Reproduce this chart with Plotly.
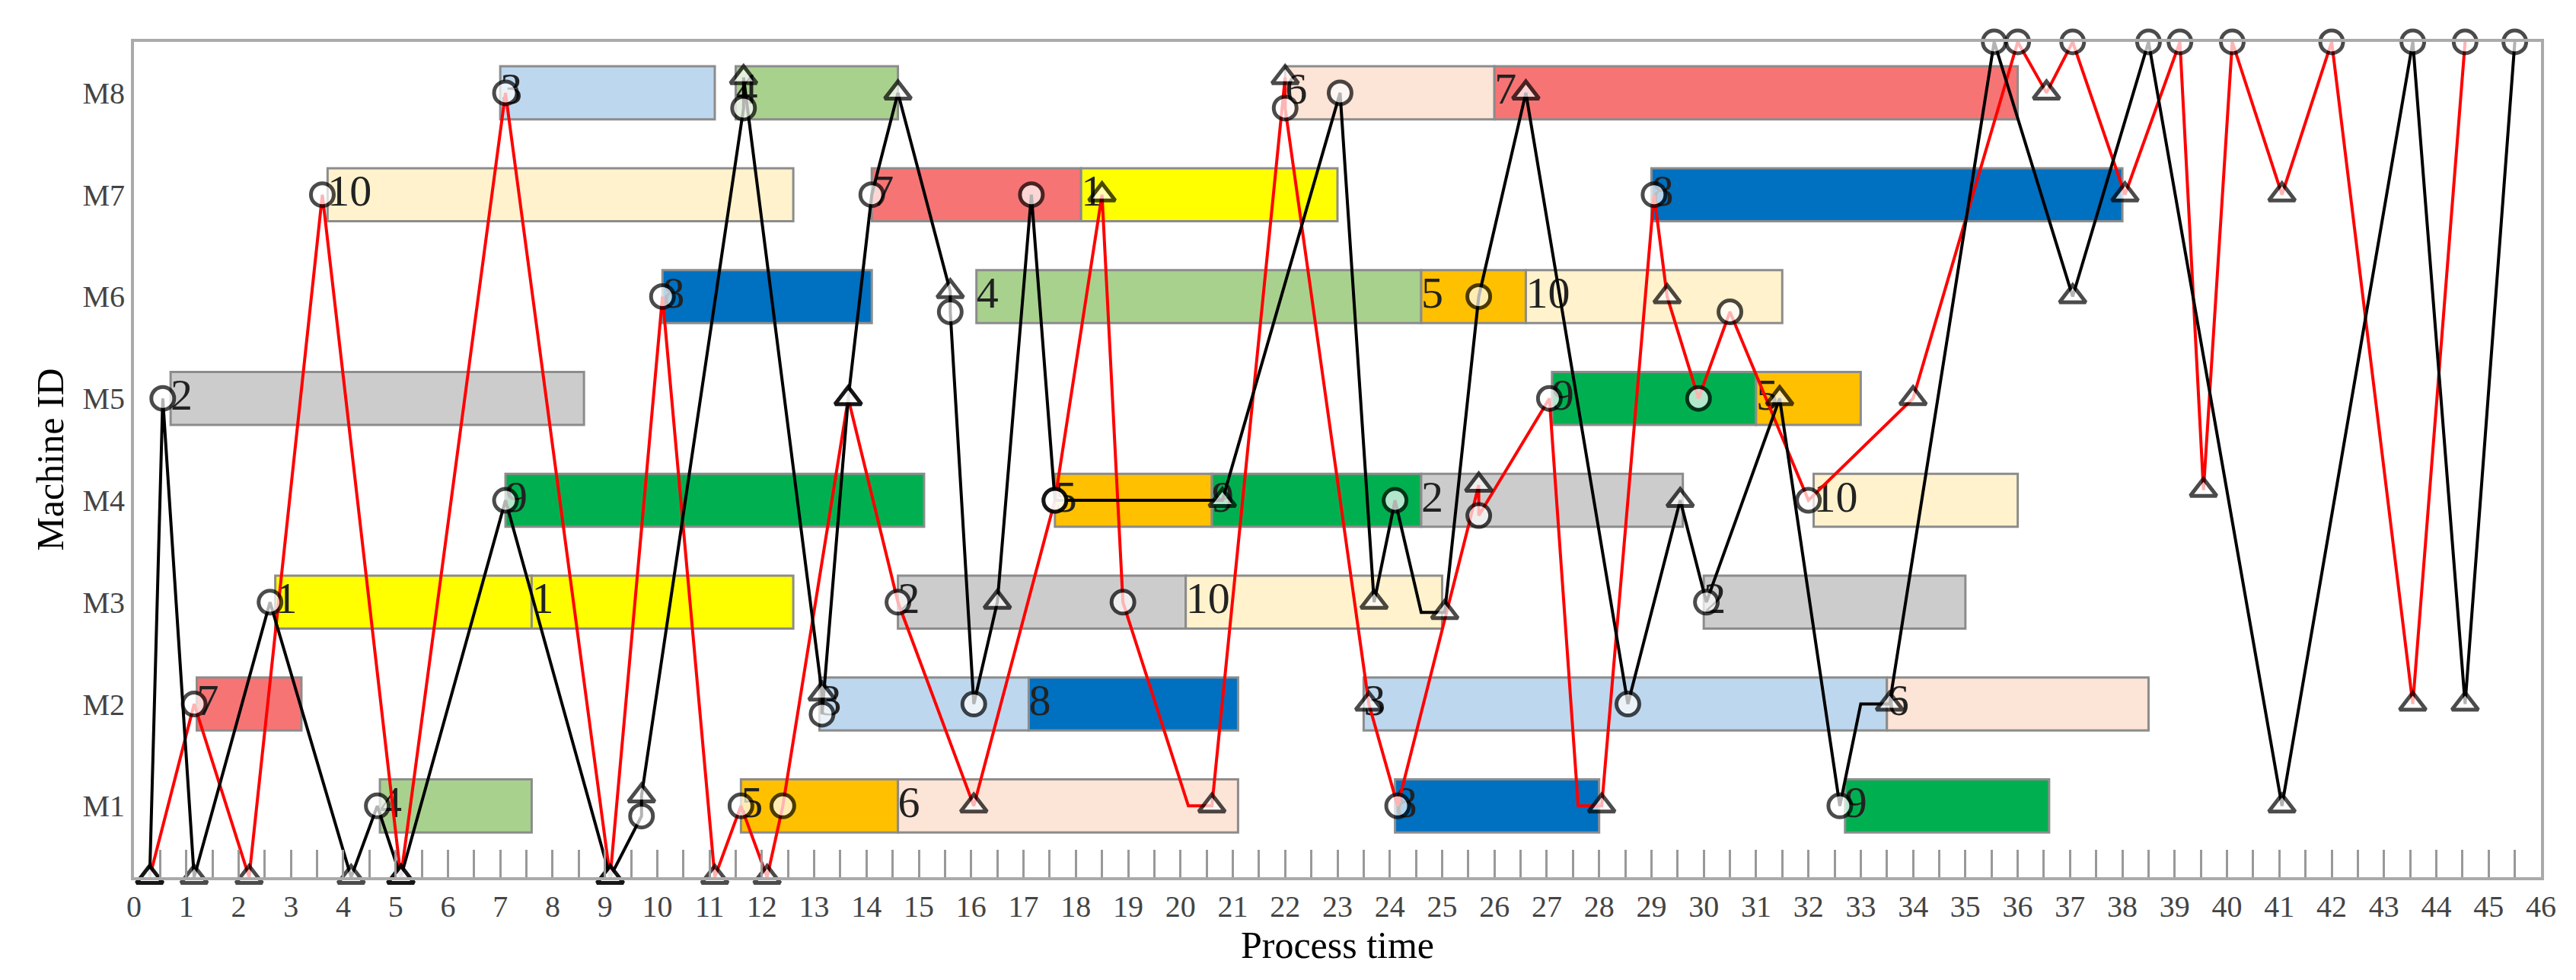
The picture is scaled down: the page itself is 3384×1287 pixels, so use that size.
import plotly.graph_objects as go

# operations: machine, job, start, end
op_machine = [8, 8, 8, 8,
              7, 7, 7, 7,
              6, 6, 6, 6,
              5, 5, 5,
              4, 4, 4, 4, 4,
              3, 3, 3, 3, 3,
              2, 2, 2, 2, 2,
              1, 1, 1, 1, 1]
op_job = [3, 4, 6, 7,
          10, 7, 1, 8,
          8, 4, 5, 10,
          2, 9, 5,
          9, 5, 9, 2, 10,
          1, 1, 2, 10, 2,
          7, 3, 8, 3, 6,
          4, 5, 6, 8, 9]
op_start = [7.0, 11.5, 22.0, 26.0,
            3.7, 14.1, 18.1, 29.0,
            10.1, 16.1, 24.6, 26.6,
            0.7, 27.1, 31.0,
            7.1, 17.6, 20.6, 24.6, 32.1,
            2.7, 7.6, 14.6, 20.1, 30.0,
            1.2, 13.1, 17.1, 23.5, 33.5,
            4.7, 11.6, 14.6, 24.1, 32.7]
op_end = [11.1, 14.6, 26.0, 36.0,
          12.6, 18.1, 23.0, 38.0,
          14.1, 24.6, 26.6, 31.5,
          8.6, 31.0, 33.0,
          15.1, 20.6, 24.6, 29.6, 36.0,
          7.6, 12.6, 20.1, 25.0, 35.0,
          3.2, 17.1, 21.1, 33.5, 38.5,
          7.6, 14.6, 21.1, 28.0, 36.6]

job_colors = {1: "#FFFF00", 2: "#CCCCCC", 3: "#BDD7EE", 4: "#A9D18E", 5: "#FFC000",
              6: "#FCE4D6", 7: "#F77474", 8: "#0070C0", 9: "#00B050", 10: "#FFF2CC"}

BASE, TOP = 0.3, 8.5

red_x = [0.3, 1.15, 2.2, 3.6, 5.1, 7.1, 9.1, 10.1, 11.1, 11.6, 12.1, 12.4, 13.65, 14.6, 16.05,
         17.6, 18.5, 18.9, 20.15, 20.6, 22.0, 22.0, 23.6, 24.15, 25.7, 25.7, 27.05, 27.6, 28.05,
         29.05, 29.3, 29.9, 30.5, 32.0, 34.0, 36.0, 36.55, 37.05, 38.05, 39.1, 39.55, 40.1,
         41.05, 42.0, 43.55, 44.55]
red_y = [BASE, 2, BASE, 7, BASE, 8, BASE, 6, BASE, 1, BASE, 1, 5, 3, 1,
         4, 7, 3, 1, 1, 8.15, 7.85, 2, 1, 4.15, 3.85, 5, 1, 1,
         7, 6, 5, 5.85, 4, 5, TOP, 8, TOP, 7, TOP, 4.1, TOP,
         7, TOP, 2, TOP]
red_sym = ["tri", "circ", "tri", "circ", "tri", "circ", "tri",
           "circ", "tri", "circ", "tri", "circ", "tri", "circ",
           "tri", "circ", "tri", "circ", "none", "tri", "tri",
           "circ", "tri", "circ", "tri", "circ", "circ", "none", "tri",
           "circ", "tri", "circ", "circ", "circ", "tri", "circ",
           "tri", "circ", "tri", "circ", "tri", "circ", "tri",
           "circ", "tri", "circ"]

black_x = [0.3, 0.55, 1.15, 2.6, 4.15, 4.65, 5.1, 7.1, 9.1, 9.7, 9.7, 11.65, 11.65, 13.15, 13.15,
           13.65, 14.1, 14.6, 15.6, 15.6, 16.05, 16.5, 17.15, 17.6, 20.8, 23.05, 23.7, 24.1,
           24.6, 25.05, 25.7, 26.6, 28.55, 29.55, 30.05, 31.45, 32.6, 33.0, 33.55, 35.55, 37.05,
           38.5, 41.05, 43.55, 44.55, 45.5]
black_y = [BASE, 5, BASE, 3, BASE, 1, BASE, 4, BASE, 0.9, 1.1, 7.85, 8.15, 2.1, 1.9,
           5, 7, 8, 6.05, 5.85, 2, 3, 7, 4, 4, 8, 3, 4,
           2.9, 2.9, 6, 8, 2, 4, 3, 5, 1, 2, 2, TOP, 6,
           TOP, 1, TOP, 2, TOP]
black_sym = ["tri", "circ", "tri", "circ", "tri", "circ", "tri",
             "circ", "tri", "circ", "tri", "circ", "tri", "tri",
             "circ", "tri", "circ", "tri", "tri", "circ", "circ",
             "tri", "circ", "circ", "tri", "circ", "tri", "circ",
             "none", "tri", "circ", "tri", "circ", "tri", "circ",
             "tri", "circ", "none", "tri", "circ", "tri", "circ",
             "tri", "circ", "tri", "circ"]

SYMBOLS = {"tri": "triangle-up", "circ": "circle", "none": "circle"}

fig = go.Figure()

fig.add_trace(go.Bar(
    y=op_machine, x=[e - s for s, e in zip(op_start, op_end)], base=op_start,
    orientation="h", width=0.52,
    marker=dict(color=[job_colors[j] for j in op_job], line=dict(color="#8c8c8c", width=3)),
    showlegend=False, hoverinfo="skip"))

fig.add_trace(go.Scatter(
    x=op_start, y=op_machine, mode="text", text=[str(j) for j in op_job],
    textposition="middle right",
    textfont=dict(family="Liberation Serif", size=58, color="#222222"),
    showlegend=False, hoverinfo="skip"))

for xs, ys, col in [(red_x, red_y, "#FF0000"), (black_x, black_y, "#000000")]:
    fig.add_trace(go.Scatter(
        x=xs, y=ys, mode="lines", line=dict(color=col, width=4),
        showlegend=False, cliponaxis=False))
for xs, ys, syms in [(red_x, red_y, red_sym), (black_x, black_y, black_sym)]:
    fig.add_trace(go.Scatter(
        x=xs, y=ys, mode="markers",
        marker=dict(symbol=[SYMBOLS[s] for s in syms],
                    size=[0 if s == "none" else 30 for s in syms],
                    color="white", line=dict(color="black", width=5)),
        showlegend=False, cliponaxis=False))

fig.update_layout(
    width=3384, height=1287,
    margin=dict(l=168, r=54, t=47, b=143),
    plot_bgcolor="white", paper_bgcolor="white",
    barmode="overlay",
    font=dict(family="Liberation Serif", size=40, color="#333333"),
    xaxis=dict(range=[0, 46], dtick=1, tick0=0, ticks="inside", ticklen=36, tickwidth=3,
               tickcolor="#999999", showgrid=False, zeroline=False,
               showline=True, linecolor="#aaaaaa", linewidth=4, mirror=True,
               minor=dict(dtick=0.5, ticks="inside", ticklen=36, tickwidth=3, tickcolor="#999999"),
               title=dict(text="Process time", font=dict(size=50, color="#000000"), standoff=8),
               tickfont=dict(size=40, color="#444444")),
    yaxis=dict(range=[BASE, TOP], tickvals=[1, 2, 3, 4, 5, 6, 7, 8],
               ticktext=["M1", "M2", "M3", "M4", "M5", "M6", "M7", "M8"],
               showgrid=False, zeroline=False, ticks="",
               showline=True, linecolor="#aaaaaa", linewidth=4, mirror=True,
               title=dict(text="Machine ID", font=dict(size=50, color="#000000"), standoff=10),
               tickfont=dict(size=40, color="#444444")),
)

fig.write_html("out.html")
